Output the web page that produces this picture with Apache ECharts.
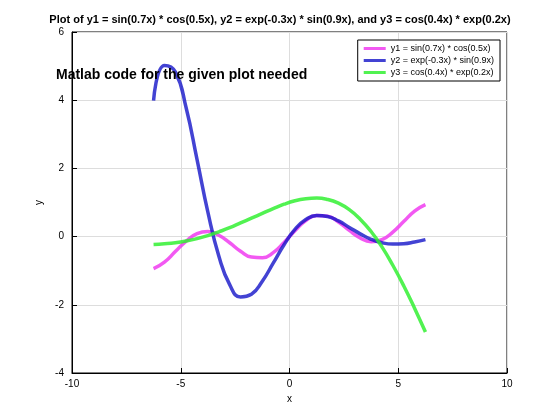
<!DOCTYPE html>
<html>
<head>
<meta charset="utf-8">
<script src="https://cdn.jsdelivr.net/npm/echarts@6/dist/echarts.min.js"></script>
<style>html,body{margin:0;background:#fff}#chart{width:560px;height:420px}</style>
</head>
<body>
<div id="chart"></div>
<script>
// x samples and curve values
var xs = [-6.25,-5.75,-5.25,-4.75,-4.25,-3.75,-3.25,-2.75,-2.25,-1.75,-1.25,-0.75,-0.25,
          0.25,0.75,1.25,1.75,2.25,2.75,3.25,3.75,4.25,4.75,5.25,5.75,6.25];
var y1 = [-0.94,-0.75,-0.44,-0.13,0.09,0.15,0.04,-0.18,-0.43,-0.60,-0.62,-0.47,-0.17,
          0.17,0.47,0.62,0.60,0.43,0.18,-0.04,-0.15,-0.09,0.13,0.44,0.75,0.94];
var y2 = [3.99,5.02,4.83,3.77,2.26,0.71,-0.57,-1.41,-1.77,-1.69,-1.31,-0.78,-0.24,
          0.21,0.50,0.62,0.59,0.46,0.27,0.08,-0.08,-0.18,-0.22,-0.21,-0.16,-0.09];
var y3 = [-0.23,-0.21,-0.18,-0.13,-0.06,0.03,0.14,0.26,0.40,0.54,0.68,0.82,0.95,
          1.05,1.11,1.13,1.09,0.98,0.79,0.51,0.15,-0.30,-0.84,-1.44,-2.10,-2.80];
var names = ['y1 = sin(0.7x) * cos(0.5x)','y2 = exp(-0.3x) * sin(0.9x)','y3 = cos(0.4x) * exp(0.2x)'];
var colors = ['rgba(240,60,240,0.85)','rgba(20,20,200,0.8)','rgba(50,240,50,0.85)'];

function pts(ys){ return xs.map(function(x,i){ return [x, ys[i]]; }); }

var FONT = 'Liberation Sans';
var chart = echarts.init(document.getElementById('chart'));
var series = [y1,y2,y3].map(function(ys,i){
  return {name:names[i], type:'line', data:pts(ys), smooth:true, showSymbol:false,
          lineStyle:{width:3.5, color:colors[i]}, itemStyle:{color:colors[i]}};
});
chart.setOption({
  animation:false,
  title:{text:'Plot of y1 = sin(0.7x) * cos(0.5x), y2 = exp(-0.3x) * sin(0.9x), and y3 = cos(0.4x) * exp(0.2x)',
         left:'center', top:9, textStyle:{fontSize:11, fontWeight:'bold', color:'#000', fontFamily:FONT}},
  legend:{orient:'vertical', right:60, top:40, backgroundColor:'#fff', borderColor:'#000', borderWidth:1,
          padding:[4,6], itemGap:3, itemWidth:22, itemHeight:3, icon:'rect',
          textStyle:{fontSize:9, color:'#000', fontFamily:FONT}},
  grid:{left:72, right:53, top:32, bottom:47, show:true, borderColor:'#000', borderWidth:1},
  xAxis:{type:'value', min:-10, max:10, interval:5, name:'x', nameLocation:'middle', nameGap:16,
         nameTextStyle:{fontSize:10, color:'#000', fontFamily:FONT},
         axisLine:{onZero:false, lineStyle:{color:'#000'}}, axisTick:{inside:true, lineStyle:{color:'#000'}},
         axisLabel:{fontSize:10, color:'#000', margin:6, fontFamily:FONT},
         splitLine:{lineStyle:{color:'#ddd'}}},
  yAxis:{type:'value', min:-4, max:6, interval:2, name:'y', nameLocation:'middle', nameGap:22,
         nameTextStyle:{fontSize:10, color:'#000', fontFamily:FONT},
         axisLine:{show:true, onZero:false, lineStyle:{color:'#000'}}, axisTick:{show:true, inside:true, lineStyle:{color:'#000'}},
         axisLabel:{fontSize:10, color:'#000', margin:8, fontFamily:FONT},
         splitLine:{lineStyle:{color:'#ddd'}}},
  graphic:[{type:'text', left:56, top:68, z:100,
            style:{text:'Matlab code for the given plot needed', fontSize:14, fontWeight:'bold',
                   fill:'#000', fontFamily:FONT}}],
  series:series
});
</script>
</body>
</html>
